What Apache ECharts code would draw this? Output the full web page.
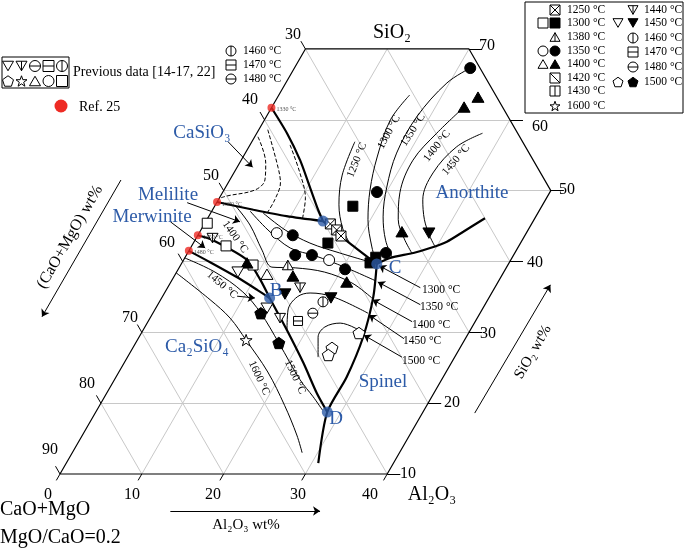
<!DOCTYPE html>
<html><head><meta charset="utf-8">
<script src="https://cdn.jsdelivr.net/npm/echarts@6/dist/echarts.min.js"></script>
<style>html,body{margin:0;padding:0;background:#fff}#c{width:685px;height:550px}</style>
</head><body><div id="c"></div>
<script>
// ===== DATA: all points as [Al2O3 wt%, SiO2 wt%]; CaO+MgO = 100 - Al2O3 - SiO2 =====
const outline = [[0,10],[40,10],[40,50],[20,70],[0,70],[0,10]];
const gridSiO2 = [20,30,40,50,60];
const gridAl2O3 = [10,20,30];
const gridCaO = [20,30,40,50,60,70,80];
const tickAl2O3 = [0,10,20,30,40];
const tickCaO = [30,40,50,60,70,80,90];
const tickSiO2 = [10,20,30,40,50,60,70];

// thick boundary curves
const bLine1330 = [[0,61.7],[3.7,58.1],[7.2,54.3],[10.3,50.5],[12.9,47.3],[14.3,45.7]];
const bLine1380 = [[0,48.4],[5.0,47.3],[9.5,46.4],[14.3,45.7]];
const bLineAC = [[14.3,45.7],[19.1,42.6],[23.9,39.65]];
const bLineCAn = [[23.9,39.65],[25.1,40.5],[27.6,41.2],[29.3,41.9],[30.9,42.8],[32.2,44.2],[33.9,46.1]];
const bLineCD = [[23.9,39.65],[25.8,35.0],[27.4,29.3],[28.2,23.7],[28.3,18.75],[30.8,11.55]];
const bLine1450 = [[0,43.7],[2.2,43.0],[7.8,40.2],[10.8,37.4],[13.2,34.85]];
const bLine1480 = [[0,41.5],[3.4,39.9],[7.7,37.8],[11.1,36.0],[13.2,34.85]];
const bLineBD = [[13.2,34.85],[17.6,30.3],[21.9,25.7],[25.7,21.4],[28.3,18.75]];

// dashed curves (CaSiO3 field)
const dash1 = [[0.4,57.6],[3.2,53.9],[4.3,51.5],[3.8,50.1],[0.8,49.25],[0.2,49.0]];
const dash2 = [[1.1,58.6],[5.0,53.3],[6.4,51.1],[6.9,48.7],[6.9,46.85]];
const dash3 = [[4.9,56.45],[8.0,52.6],[10.5,49.0],[11.6,46.1]];

// isotherms
const an1250 = [[12.6,56.9],[13.4,52.2],[15.1,48.0],[17.2,44.7],[19.1,42.6]];
const an1300 = [[16.0,63.5],[15.4,60.0],[16.4,54.75],[17.85,50.1],[19.7,45.9],[22.1,42.05],[23.9,39.65]];
const an1350 = [[21.5,67.3],[19.7,65.2],[18.4,60.4],[18.5,55.3],[19.7,50.5],[21.35,46.3],[23.3,43.0],[25.3,40.6]];
const an1400 = [[23.5,61.8],[22.0,58.1],[21.0,54.3],[21.7,49.7],[23.4,45.9],[25.4,43.3],[27.4,41.2]];
const an1450 = [[27.6,58.1],[25.4,56.2],[24.35,52.5],[25.0,48.7],[26.6,45.9],[28.4,43.6],[29.7,42.2]];
const mel1300 = [[6.4,46.85],[10.3,44.45],[14.25,42.6],[18.6,41.2],[23.9,39.65]];
const mel1350 = [[4.7,47.1],[8.2,44.45],[12.2,41.9],[15.8,40.8],[20.2,39.2],[25.0,37.25]];
const mel1400 = [[2.6,47.8],[5.65,45.15],[8.9,41.6],[11.3,39.2],[14.2,39.1],[18.1,38.5],[22.2,36.97],[25.7,34.85]];
const mel1450 = [[17.6,30.3],[16.3,33.15],[16.5,35.0],[17.8,35.55],[20.9,35.0],[26.3,32.7]];
const mel1500 = [[23.3,26.5],[21.9,29.3],[22.0,30.75],[23.6,31.3],[27.2,29.9]];
const cs1500 = [[0,40.5],[4.7,38.5],[9.5,35.7],[13.2,32.7],[17.5,28.5],[22.7,23.3],[25.5,20.9],[27.6,19.0]];
const cs1600 = [[0,38.4],[6.05,34.6],[9.8,32.0],[13.3,28.9],[18.2,24.4],[22.6,19.7],[26.2,15.5],[28.1,13.0]];

// experimental points
const pts1250 = [[15.4,45.3],[16.6,44.45],[17.55,43.6]];
const pts1300F = [[16.9,47.8],[16.45,42.6],[23.3,40.6],[23.0,39.8]];
const pts1300O = [[0.3,45.4],[4.2,42.2],[8.85,39.5]];
const pts1350F = [[21.5,67.3],[18.85,49.8],[11.6,43.7],[13.3,40.9],[15.35,40.9],[20.4,38.9],[24.25,41.2]];
const pts1350O = [[9.5,44.0],[17.8,40.2]];
const pts1380 = [[13.1,39.5]];
const pts1400F = [[24.5,63.2],[23.5,61.8],[24.7,44.2],[7.96,39.8],[14.5,37.95],[21.5,37.1]];
const pts1400O = [[11.2,38.2]];
const pts1440 = [[2.0,43.3],[16.2,36.3],[15.9,32.0]];
const pts1450F = [[28.1,44.0],[14.8,35.4],[20.7,34.85]];
const pts1450O = [[7.5,38.5],[13.6,33.4]];
const pts1460 = [[20.0,34.3]];
const pts1470 = [[18.3,31.6]];
const pts1480 = [[19.56,32.7]];
const pts1500F = [[13.2,32.7],[17.5,28.5]];
const pts1500O = [[24.35,27.8],[24.4,26.8],[26.6,29.9]];
const pts1600 = [[13.3,28.9]];

const invariantPts = [[14.3,45.7],[23.9,39.65],[13.2,34.85],[28.3,18.75]];
const ref25Pts = [[0,61.7],[0,48.4],[0,43.7],[0,41.5]];
const ref25Temps = ['1330 °C','1380 °C','1450 °C','1480 °C'];

// annotation arrows [from, to]
const arrowData = [
  [[-2.9,56.9],[1.9,53.3]], [[-3.6,48.3],[4.2,45.6]], [[-4.3,45.6],[1.8,41.9]], [[9.1,35.1],[11.4,34.85]],
  [[30.9,36.3],[24.3,39.4]], [[32.1,33.9],[25.3,37.1]], [[32.3,31.5],[25.9,34.6]],
  [[32.5,29.1],[26.55,32.45]], [[33.55,26.5],[27.35,29.6]],
  [[-13.3,51.5],[-13.3,32.2]], [[16.1,4.78],[34.4,4.78]], [[46.4,18.6],[46.6,36.7]]
];

// ===== LAYOUT =====
const PX = 8.18, OX = 60, OY = 474, W = 685, H = 550;
const K = Math.sqrt(3)/2;
const T = p => [p[0] + (p[1]-10)/2, (p[1]-10)*K];
const FONT = 'Liberation Serif';
const BLUE = '#2d5ba8';

const SYM = {
  sq: 'M0,0L20,0L20,20L0,20Z',
  sqX: 'M0,0L20,0L20,20L0,20Z M0,0L20,20 M20,0L0,20',
  sqD: 'M0,0L20,0L20,20L0,20Z M0,0L20,20',
  sqV: 'M0,0L20,0L20,20L0,20Z M10,0L10,20',
  sqH: 'M0,0L20,0L20,20L0,20Z M0,10L20,10',
  tri: 'M10,0L20,17.3L0,17.3Z',
  triL: 'M10,0L20,17.3L0,17.3Z M10,0L10,17.3',
  inv: 'M0,0L20,0L10,17.3Z',
  invL: 'M0,0L20,0L10,17.3Z M10,0L10,17.3',
  circ: 'M0,10A10,10,0,1,1,20,10A10,10,0,1,1,0,10Z',
  circV: 'M0,10A10,10,0,1,1,20,10A10,10,0,1,1,0,10Z M10,0L10,20',
  circH: 'M0,10A10,10,0,1,1,20,10A10,10,0,1,1,0,10Z M0,10L20,10',
  pent: 'M10,0L19.51,6.91L15.88,18.09L4.12,18.09L0.49,6.91Z',
  star: 'M10,0L12.35,6.76L19.51,6.91L13.8,11.24L15.88,18.09L10,14L4.12,18.09L6.2,11.24L0.49,6.91L7.65,6.76Z'
};

const series = [];
const segs = (arr, z, color, width) => ({type:'lines', coordinateSystem:'cartesian2d', silent:true, z,
  lineStyle:{color, width, opacity:1}, data: arr.map(s => ({coords: s.map(T)}))});

const gridSegs = [];
gridSiO2.forEach(s => gridSegs.push([[0,s],[Math.min(40,90-s),s]]));
gridAl2O3.forEach(a => gridSegs.push([[a,10],[a,Math.min(70,90-a)]]));
gridCaO.forEach(c => { const a0 = Math.max(0,30-c), a1 = Math.min(40,90-c); gridSegs.push([[a0,100-c-a0],[a1,100-c-a1]]); });
series.push(segs(gridSegs, 1, '#c8c8c8', 1));

const tickSegs = [];
tickAl2O3.forEach(a => tickSegs.push([[a,10],[a,9.1]]));
tickCaO.forEach(c => tickSegs.push([[0,100-c],[-1.1,100-c+1.1]]));
tickSiO2.forEach(s => { const a = Math.min(40,90-s); tickSegs.push([[a,s],[a+1.6,s]]); });
series.push(segs(tickSegs, 2, '#000', 1));

const line = (pts, width, type, z, smooth) => ({type:'line', data: pts.map(T), showSymbol:false, silent:true,
  smooth: smooth === undefined ? 0.35 : smooth, z: z||4, lineStyle:{color:'#000', width, type: type||'solid'}});
series.push(line(outline, 1.2, 'solid', 3, false));
[dash1, dash2, dash3].forEach(d => series.push(line(d, 1, 'dashed', 4)));
[an1250, an1300, an1350, an1400, an1450, mel1300, mel1350, mel1400, mel1450, mel1500, cs1500, cs1600]
  .forEach(d => series.push(line(d, 1, 'solid', 4)));
[bLine1330, bLine1380, bLineAC, bLineCAn, bLineCD, bLine1450, bLine1480, bLineBD]
  .forEach(d => series.push(line(d, 2.2, 'solid', 5, 0.25)));

series.push({type:'lines', coordinateSystem:'cartesian2d', silent:true, z:5, symbol:['none','arrow'], symbolSize:7,
  lineStyle:{color:'#000', width:1, opacity:1}, data: arrowData.map(s => ({coords: s.map(T)}))});

const mk = (data, sym, filled, size) => ({type:'scatter', data: data.map(T), symbol:'path://'+SYM[sym],
  symbolSize: size||10, symbolKeepAspect:true, silent:true, z:6,
  itemStyle:{color: filled ? '#000' : '#fff', borderColor:'#000', borderWidth:1, opacity:1}});
series.push(mk(pts1250,'sqX',false,10), mk(pts1300F,'sq',true,10), mk(pts1300O,'sq',false,10),
  mk(pts1350F,'circ',true,11), mk(pts1350O,'circ',false,11), mk(pts1380,'triL',false,11),
  mk(pts1400F,'tri',true,12), mk(pts1400O,'tri',false,12), mk(pts1440,'invL',false,11),
  mk(pts1450F,'inv',true,12), mk(pts1450O,'inv',false,12), mk(pts1460,'circV',false,10),
  mk(pts1470,'sqH',false,9), mk(pts1480,'circH',false,10), mk(pts1500F,'pent',true,12),
  mk(pts1500O,'pent',false,12), mk(pts1600,'star',false,12));

series.push({type:'scatter', silent:true, z:7, symbol:'circle', symbolSize:11, itemStyle:{color:BLUE},
  data: invariantPts.map(T)});
series.push({type:'scatter', silent:true, z:7, symbol:'circle', symbolSize:8, itemStyle:{color:'#ee2b24'},
  data: ref25Pts.map((p,i) => ({value:T(p), name:ref25Temps[i]})),
  label:{show:true, position:'right', distance:1, formatter:'{b}', fontSize:6, fontFamily:FONT, color:'#222', offset:[0,2]}});

// ===== TEXT & LEGENDS =====
const G = [];
const txt = (text, x, y, fs, opt) => { opt = opt||{}; G.push({type:'text', x, y, rotation:(opt.rot||0)*Math.PI/180, z:100,
  style:{text, fontSize:fs, fontFamily:FONT, fill:opt.color||'#000', align:opt.align||'center', verticalAlign:'middle',
  textAlign:opt.align||'center', textVerticalAlign:'middle'}}); };
// legend icons: scatter on a pixel-space helper grid
const iconGroups = {};
const icon = (sym, cx, cy, filled, s) => { const key = sym+'|'+(filled?1:0)+'|'+(s||10);
  (iconGroups[key] = iconGroups[key] || {sym, filled, s:s||10, pts:[]}).pts.push([cx,cy]); };

const leftLabelPos = {30:[293,35],40:[250,100],50:[211,176],60:[167,243],70:[130,318],80:[87,384],90:[50,450]};
const bottomLabelPos = {0:[48,495],10:[132,495],20:[213,495],30:[298,495],40:[370,495]};
const rightLabelPos = {10:[408,474],20:[452,403],30:[488,334],40:[535,263],50:[567,190],60:[540,127],70:[487,46]};
tickCaO.forEach(v => txt(String(v), leftLabelPos[v][0], leftLabelPos[v][1], 16));
tickAl2O3.forEach(v => txt(String(v), bottomLabelPos[v][0], bottomLabelPos[v][1], 16));
tickSiO2.forEach(v => txt(String(v), rightLabelPos[v][0], rightLabelPos[v][1], 16));

txt('SiO₂', 392, 33, 20);
txt('Al₂O₃', 432, 495, 20);
txt('CaO+MgO', 0, 510, 20, {align:'left'});
txt('MgO/CaO=0.2', 0, 538, 20, {align:'left'});
txt('(CaO+MgO) wt%', 70, 237, 16, {rot:60});
txt('Al₂O₃ wt%', 246, 525, 15);
txt('SiO₂ wt%', 533, 352, 15, {rot:60});

txt('CaSiO₃', 202, 133, 19, {color:BLUE});
txt('Melilite', 168, 195, 19, {color:BLUE});
txt('Merwinite', 152, 217, 19, {color:BLUE});
txt('Anorthite', 472, 193, 19, {color:BLUE});
txt('Ca₂SiO₄', 197, 347, 19, {color:BLUE});
txt('Spinel', 383, 382, 19, {color:BLUE});
txt('B', 276, 291, 19, {color:BLUE});
txt('C', 395, 268, 19, {color:BLUE});
txt('D', 336, 419, 19, {color:BLUE});

[['1250 °C',357,160,68],['1300 °C',389,132,62],['1350 °C',413,130,57],['1400 °C',437,146,52],['1450 °C',456,160,50],
 ['1400 °C',235,237,-55],['1450 °C',222,285,-40],['1600 °C',259,378,-65],['1500 °C',295,377,-65]]
  .forEach(l => txt(l[0], l[1], l[2], 11, {rot:l[3]}));
[['1300 °C',422,290],['1350 °C',420,307],['1400 °C',412,325],['1450 °C',403,341],['1500 °C',402,361]]
  .forEach(l => txt(l[0], l[1], l[2], 11.5, {align:'left'}));

// previous-data legend
G.push({type:'rect', z:100, shape:{x:2,y:57,width:67,height:31}, style:{fill:'none', stroke:'#000', lineWidth:1}});
['inv','invL','circH','sqH','circV'].forEach((s,i) => icon(s, 8+13.5*i, 66, false, 11));
['pent','star','tri','circ','sq'].forEach((s,i) => icon(s, 8+13.5*i, 81, false, 11));
txt('Previous data [14-17, 22]', 73, 72, 14, {align:'left'});
G.push({type:'circle', z:100, shape:{cx:61, cy:106, r:6.5}, style:{fill:'#ee2b24'}});
txt('Ref. 25', 79, 107, 14, {align:'left'});

// small legend
[['circV','1460 °C',51],['sqH','1470 °C',65],['circH','1480 °C',79]].forEach(e => { icon(e[0], 231, e[2], false, 10); txt(e[1], 243, e[2], 11.5, {align:'left'}); });

// temperature legend box
G.push({type:'rect', z:90, shape:{x:525,y:2,width:158,height:111}, style:{fill:'#fff', stroke:'#000', lineWidth:1}});
const legL = [[[['sqX',0]],'1250 °C',10],[[['sq',0],['sq',1]],'1300 °C',23],[[['triL',0]],'1380 °C',37],
  [[['circ',0],['circ',1]],'1350 °C',51],[[['tri',0],['tri',1]],'1400 °C',64],[[['sqD',0]],'1420 °C',78],
  [[['sqV',0]],'1430 °C',91],[[['star',0]],'1600 °C',106]];
const legR = [[[['invL',0]],'1440 °C',10],[[['inv',0],['inv',1]],'1450 °C',23],[[['circV',0]],'1460 °C',38],
  [[['sqH',0]],'1470 °C',52],[[['circH',0]],'1480 °C',67],[[['pent',0],['pent',1]],'1500 °C',82]];
legL.forEach(e => { const n = e[0].length; e[0].forEach((s,i) => icon(s[0], 555-12*(n-1-i), e[2], s[1]===1, 10)); txt(e[1], 567, e[2], 11.5, {align:'left'}); });
legR.forEach(e => { const n = e[0].length; e[0].forEach((s,i) => icon(s[0], 633-15*(n-1-i), e[2], s[1]===1, 10)); txt(e[1], 644, e[2], 11.5, {align:'left'}); });

Object.values(iconGroups).forEach(g => series.push({type:'scatter', xAxisIndex:1, yAxisIndex:1, silent:true, z:200,
  zlevel:1, data:g.pts, symbol:'path://'+SYM[g.sym], symbolSize:g.s, symbolKeepAspect:true,
  itemStyle:{color: g.filled ? '#000' : '#fff', borderColor:'#000', borderWidth:1, opacity:1}}));

const chart = echarts.init(document.getElementById('c'));
chart.setOption({
  animation:false,
  backgroundColor:'#fff',
  grid:[{left:0,right:0,top:0,bottom:0},{left:0,right:0,top:0,bottom:0}],
  xAxis:[{type:'value', gridIndex:0, min:-OX/PX, max:(W-OX)/PX, show:false, splitLine:{show:false}},
         {type:'value', gridIndex:1, min:0, max:W, show:false, splitLine:{show:false}}],
  yAxis:[{type:'value', gridIndex:0, min:-(H-OY)/PX, max:OY/PX, show:false, splitLine:{show:false}},
         {type:'value', gridIndex:1, min:0, max:H, inverse:true, show:false, splitLine:{show:false}}],
  series,
  graphic:{elements:G}
});
</script>
</body></html>
